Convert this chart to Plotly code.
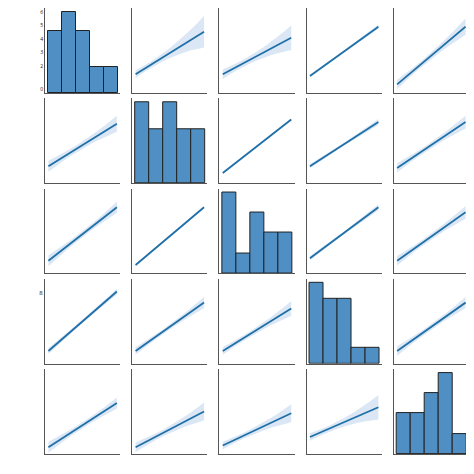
import plotly.graph_objects as go
from plotly.subplots import make_subplots

n = 5
# histogram counts on the diagonal (5 bins each)
hist_counts = [
    [4.6, 6, 4.6, 1.9, 1.9],
    [3, 2, 3, 2, 2],
    [4, 1, 3, 2, 2],
    [5, 4, 4, 1, 1],
    [2, 2, 3, 4, 1],
]
# off-diagonal regression lines: (row, col, y at left, y at right, band left, band right)
reg_lines = [
    (0, 1, .22, .72, .04, .18), (0, 2, .22, .65, .05, .14), (0, 3, .20, .78, .01, .02), (0, 4, .10, .78, .05, .09),
    (1, 0, .20, .70, .06, .09), (1, 2, .12, .75, .005, .005), (1, 3, .20, .72, .02, .03), (1, 4, .18, .72, .05, .07),
    (2, 0, .15, .78, .06, .06), (2, 1, .10, .78, .005, .005), (2, 3, .18, .78, .02, .03), (2, 4, .15, .72, .05, .07),
    (3, 0, .15, .85, .03, .03), (3, 1, .15, .72, .04, .06), (3, 2, .15, .65, .04, .08), (3, 4, .15, .72, .05, .06),
    (4, 0, .08, .60, .06, .06), (4, 1, .08, .50, .05, .10), (4, 2, .10, .48, .04, .10), (4, 3, .20, .55, .04, .14),
]
xs = [0, 0.1, 0.2, 0.3, 0.4, 0.5, 0.6, 0.7, 0.8, 0.9, 1.0]

blue = "#1f6fa8"
fig = make_subplots(rows=n, cols=n, horizontal_spacing=0.028, vertical_spacing=0.012)

for i, counts in enumerate(hist_counts):
    fig.add_trace(go.Bar(x=[0, 1, 2, 3, 4], y=counts, width=1, marker=dict(color="#4f8fc4", line=dict(color="#222", width=1))),
                  row=i + 1, col=i + 1)
    fig.update_xaxes(range=[-0.7, 4.7], row=i + 1, col=i + 1)
    fig.update_yaxes(range=[0, max(counts) * 1.05], row=i + 1, col=i + 1)

for r, c, y0, y1, wl, wr in reg_lines:
    ys = [y0 + (y1 - y0) * x for x in xs]
    ws = [wl * (1 - x) ** 2 + wr * x ** 2 + 0.005 for x in xs]
    fig.add_trace(go.Scatter(x=xs + xs[::-1], y=[y + w for y, w in zip(ys, ws)] + [y - w for y, w in zip(ys[::-1], ws[::-1])],
                             fill="toself", fillcolor="rgba(110,160,210,0.25)", line=dict(width=0), mode="lines"),
                  row=r + 1, col=c + 1)
    fig.add_trace(go.Scatter(x=xs, y=ys, mode="lines", line=dict(color=blue, width=1.8)), row=r + 1, col=c + 1)
    fig.update_xaxes(range=[-0.05, 1.05], row=r + 1, col=c + 1)
    fig.update_yaxes(range=[0, 1], row=r + 1, col=c + 1)

fig.update_xaxes(showgrid=False, zeroline=False, showline=True, linecolor="#555", showticklabels=False, ticks="")
fig.update_yaxes(showgrid=False, zeroline=False, showline=True, linecolor="#555", showticklabels=False, ticks="")
fig.update_yaxes(showticklabels=True, tickvals=[0.3, 2, 3, 4, 5, 6], ticktext=["0", "2", "3", "4", "5", "6"],
                 tickfont=dict(size=5, color="#111"), row=1, col=1)
fig.update_yaxes(showticklabels=True, tickvals=[0.83], ticktext=["8"], tickfont=dict(size=6, color="#111"), row=4, col=1)

fig.update_layout(width=474, height=474, showlegend=False, plot_bgcolor="white", paper_bgcolor="white",
                  margin=dict(l=37, r=13, t=0, b=28), bargap=0)
fig.write_html("out.html")
